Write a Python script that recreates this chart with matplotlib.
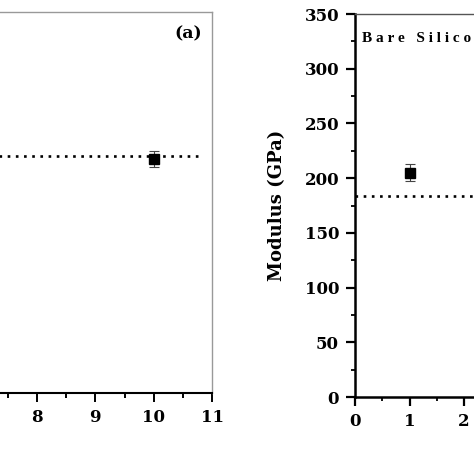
import numpy as np
import matplotlib.pyplot as plt
from matplotlib.ticker import MultipleLocator

plt.rcParams['font.family'] = ['DejaVu Serif']
plt.rcParams['font.weight'] = 'bold'

# panel (a): only its right part is visible
a_x = [10]
a_y = [215]
a_err = [7]
a_ref = 218
a_ticks = list(range(0, 12))
a_ticklabels = ['' if t < 8 else str(t) for t in a_ticks]

# panel (b): bare silicon modulus
b_x = [1]
b_y = [205]
b_err = [8]
b_ref = 184
b_ticks = list(range(0, 7))
b_ticklabels = [str(t) if t <= 2 else '' for t in b_ticks]

fig = plt.figure(figsize=(4.74, 4.74), dpi=100)

# left panel, most of it lies outside the crop
ax1 = fig.add_axes([-0.9065, 0.1709, 1.3538, 0.8038])
ax1.axhline(a_ref, color='black', lw=1.9, linestyle=(0, (1, 2.1)), xmax=0.985)
ax1.errorbar(a_x, a_y, yerr=a_err, fmt='s', color='black', ms=7,
             ecolor='#444444', elinewidth=0.8, capsize=3.5, capthick=0.8)
ax1.set_xlim(0, 11)
ax1.set_ylim(0, 350)
ax1.set_xticks(a_ticks)
ax1.set_xticklabels(a_ticklabels)
ax1.xaxis.set_minor_locator(MultipleLocator(0.5))
ax1.tick_params(axis='x', which='major', direction='out', length=6.5, width=1.4,
                labelsize=12, pad=5)
ax1.tick_params(axis='x', which='minor', direction='out', length=3.5, width=1.4)
ax1.tick_params(axis='y', left=False, labelleft=False)
for s in ['top', 'right']:
    ax1.spines[s].set_color('#999999')
    ax1.spines[s].set_linewidth(1.0)
ax1.spines['bottom'].set_linewidth(1.5)
ax1.text(0.984, 0.966, '(a)', transform=ax1.transAxes, ha='right', va='top',
         fontsize=12.5, fontweight='bold')

# right panel
ax2 = fig.add_axes([0.749, 0.1624, 0.69, 0.808])
ax2.axhline(b_ref, color='black', lw=1.9, linestyle=(0, (1, 2.1)))
ax2.errorbar(b_x, b_y, yerr=b_err, fmt='s', color='black', ms=7,
             ecolor='#444444', elinewidth=0.8, capsize=3.5, capthick=0.8)
ax2.set_xlim(0, 6)
ax2.set_ylim(0, 350)
ax2.set_xticks(b_ticks)
ax2.set_xticklabels(b_ticklabels)
ax2.xaxis.set_minor_locator(MultipleLocator(0.5))
ax2.yaxis.set_major_locator(MultipleLocator(50))
ax2.yaxis.set_minor_locator(MultipleLocator(25))
ax2.tick_params(which='major', direction='out', length=6.5, width=1.6,
                labelsize=12, pad=5)
ax2.tick_params(which='minor', direction='out', length=3, width=1.3)
ax2.tick_params(axis='x', pad=5)
ax2.spines['left'].set_linewidth(1.8)
ax2.spines['bottom'].set_linewidth(1.8)
ax2.spines['top'].set_color('#555555')
ax2.spines['top'].set_linewidth(1.0)
ax2.set_ylabel('Modulus (GPa)', fontsize=13, fontweight='bold', labelpad=13)
ax2.text(0.021, 0.952, 'B a r e   S i l i c o n', transform=ax2.transAxes,
         ha='left', va='top', fontsize=11, fontweight='bold',
         family='Liberation Serif')

fig.savefig('out.png', dpi=100)
